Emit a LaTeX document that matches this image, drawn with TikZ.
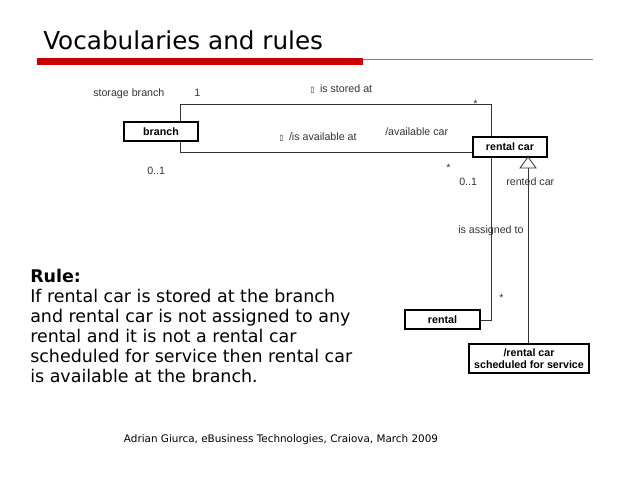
\documentclass[tikz,border=0pt]{standalone}
\usepackage{fontspec}
\setmainfont{DejaVu Sans}
\newfontfamily\arial{Liberation Sans}
\begin{document}
\begin{tikzpicture}[x=0.75pt,y=-0.75pt,
  cls/.style={draw,thick,fill=white,font=\arial\bfseries\fontsize{8}{9}\selectfont,inner sep=0pt},
  lbl/.style={font=\arial\fontsize{8}{9}\selectfont,text=black!80,inner sep=0pt},
  ln/.style={draw,black!80,line width=0.6pt}]
\useasboundingbox (0,0) rectangle (638,478);
\node[anchor=base west,font=\fontsize{18.5}{20}\selectfont,inner sep=0pt] (title) at (43,50) {Vocabularies and rules};
\fill[red!80!black] (37,58) rectangle (363,65);
\draw[red!70,line width=0.6pt] (363,59) -- (593,59);
\node[cls,minimum width=74*0.75pt,minimum height=19*0.75pt] (branch) at (161,131.5) {branch};
\node[cls,minimum width=74*0.75pt,minimum height=20*0.75pt] (rcar) at (510,147) {rental car};
\node[cls,minimum width=75*0.75pt,minimum height=19*0.75pt] (rental) at (442.5,319.5) {rental};
\node[cls,minimum width=120*0.75pt,minimum height=29*0.75pt,align=center] (sched) at (529,358.5) {/rental car\\scheduled for service};
\coordinate (t1) at (180,104); \coordinate (t2) at (491,104);
\draw[ln] (branch.north west -| t1) -- (t1) -- (t2) -- (rcar.north -| t2);
\coordinate (b1) at (180,152);
\draw[ln] (branch.south west -| b1) -- (b1) -- (rcar.west |- b1);
\coordinate (r1) at (491,320);
\draw[ln] (rcar.south -| r1) -- (r1) -- (rental.east |- r1);
\coordinate (g) at (528,168);
\draw[ln] (sched.north -| g) -- (g);
\draw[ln,fill=white] (g) -- (520,168) -- (528,157) -- (536,168) -- cycle;
\node[lbl,anchor=base west] (l1) at (93,96) {storage branch};
\node[lbl,anchor=base west] (l2) at (194,96) {1};
\node[lbl,anchor=base west] (l3) at (310,93) {{\fontspec{DejaVu Sans}\fontsize{6}{7}\selectfont ▯}\enspace is stored at};
\node[lbl,anchor=base west] (l4) at (473,107) {*};
\node[lbl,anchor=base west] (l5) at (279,140) {{\fontspec{DejaVu Sans}\fontsize{6}{7}\selectfont ▯}\enspace /is available at};
\node[lbl,anchor=base west] (l6) at (385,135) {/available car};
\node[lbl,anchor=base west] (l7) at (147,174) {0..1};
\node[lbl,anchor=base west] (l8) at (446,171) {*};
\node[lbl,anchor=base west] (l9) at (459,185) {0..1};
\node[lbl,anchor=base west] (l10) at (506,185) {rented car};
\node[lbl,anchor=base west] (l11) at (458,233) {is assigned to};
\node[lbl,anchor=base west] (l12) at (499,301) {*};
\node[anchor=north west,align=left,font=\fontsize{13.1}{15}\selectfont,inner sep=0pt] (rule) at (30,269) {\textbf{Rule:}\\If rental car is stored at the branch\\and rental car is not assigned to any\\rental and it is not a rental car\\scheduled for service then rental car\\is available at the branch.};
\node[font=\fontsize{7.8}{10}\selectfont,inner sep=0pt] (foot) at (281,440) {Adrian Giurca, eBusiness Technologies, Craiova, March 2009};
\end{tikzpicture}
\end{document}
